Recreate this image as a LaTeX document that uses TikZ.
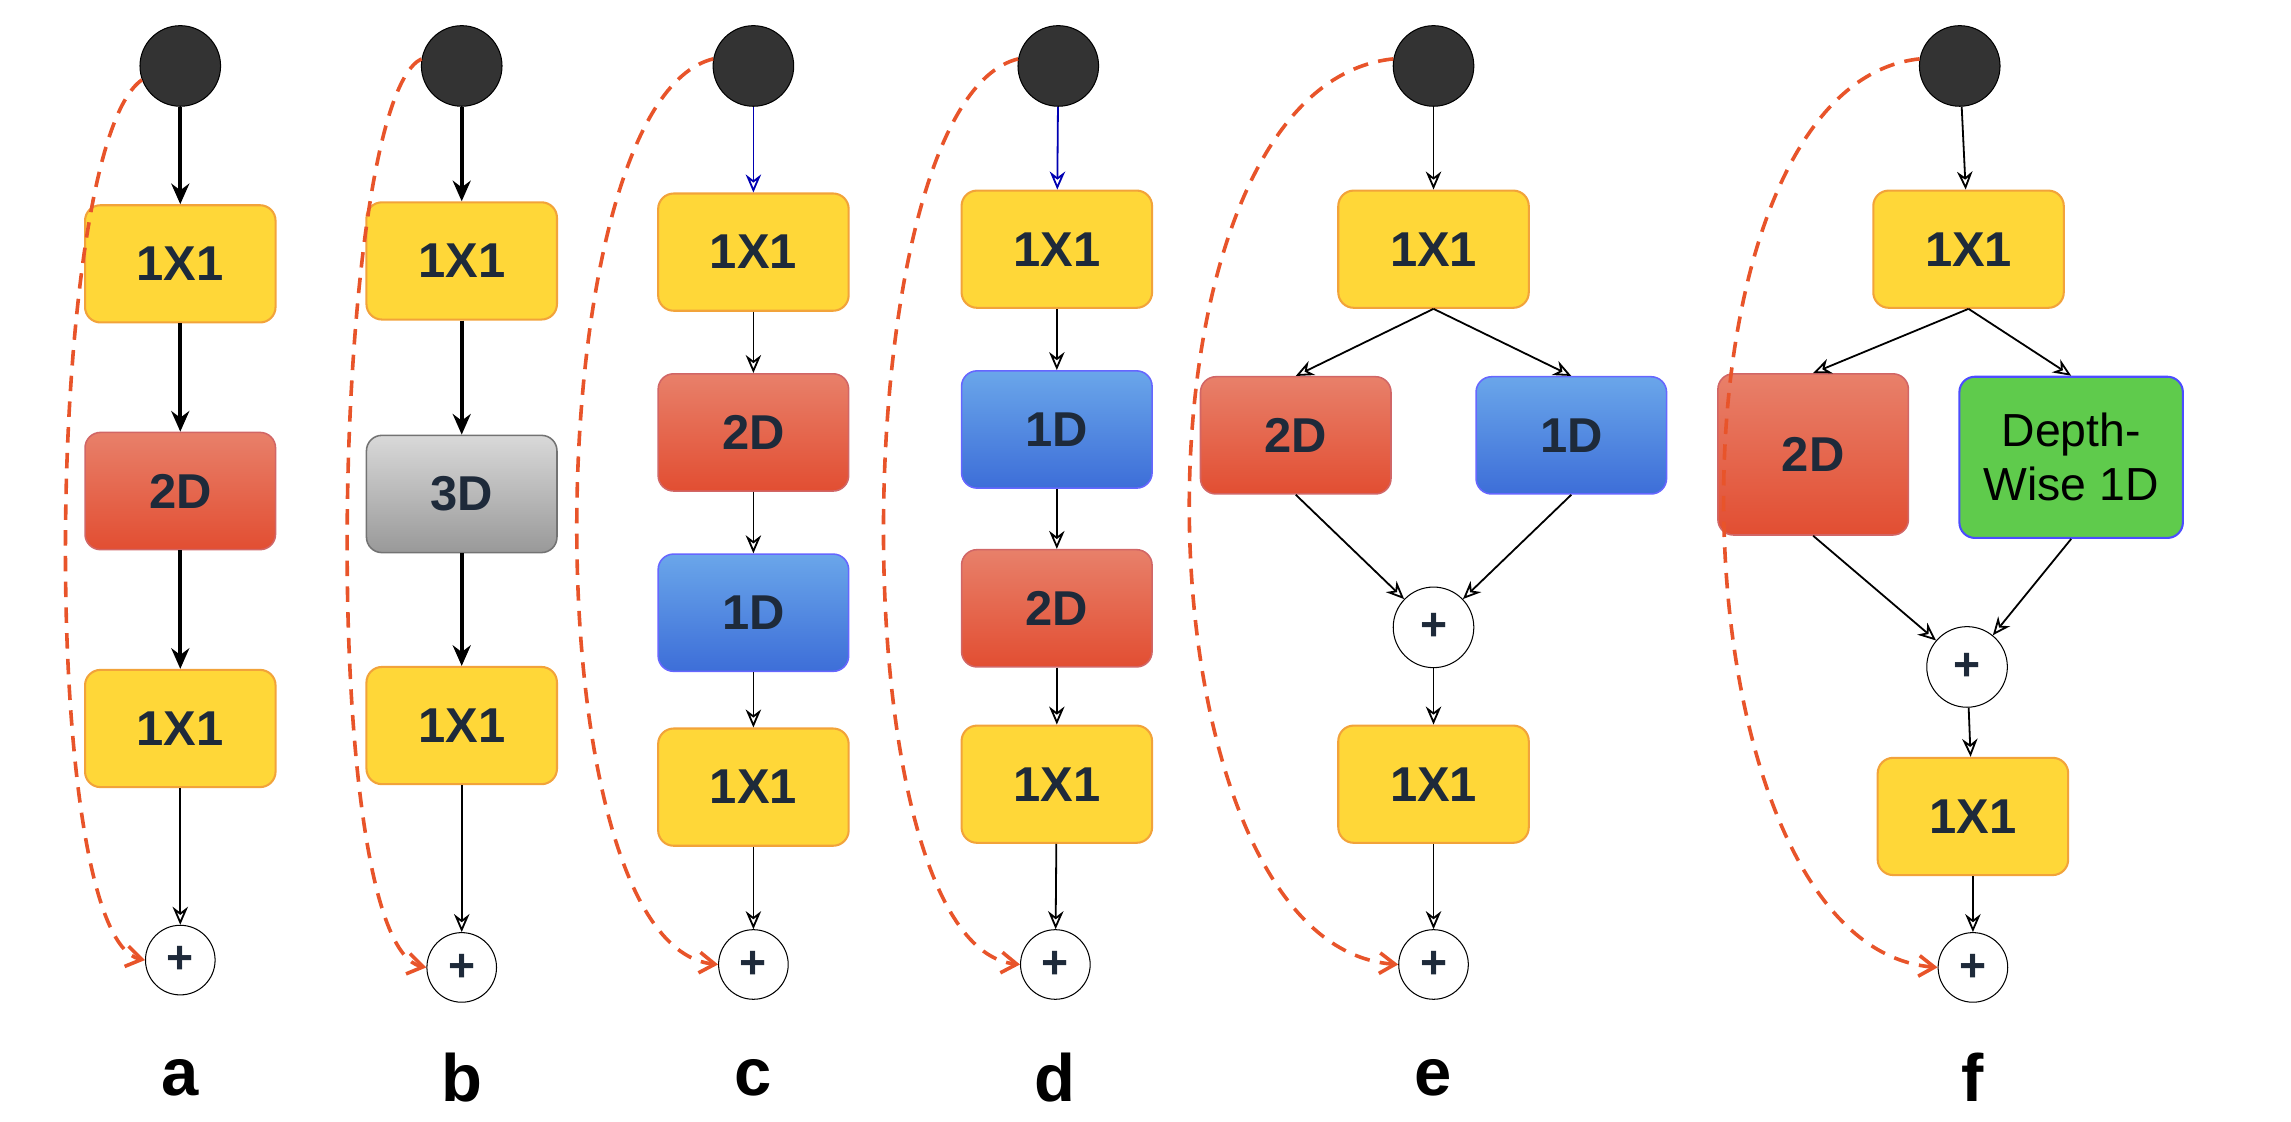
\documentclass[tikz,border=0pt]{standalone}
\usepackage{fontspec}
\setmainfont{Liberation Sans}
\usetikzlibrary{arrows.meta,shadings}
\definecolor{yfill}{HTML}{FFD738}
\definecolor{ydraw}{HTML}{F2A33A}
\definecolor{skipc}{HTML}{E8542A}
\definecolor{txt}{HTML}{1E2A3A}
\definecolor{redt}{HTML}{E8806A}
\definecolor{redb}{HTML}{E24E32}
\definecolor{blut}{HTML}{6AA6EA}
\definecolor{blub}{HTML}{3D6ED8}
\definecolor{grnf}{HTML}{5FCB4C}
\tikzset{
 box/.style={rounded corners=6pt,minimum width=2.6cm,minimum height=1.6cm,font=\fontsize{19}{22}\selectfont\bfseries,text=txt,align=center,inner sep=1pt},
 yel/.style={box,fill=yfill,draw=ydraw,line width=0.8pt},
 red/.style={box,top color=redt,bottom color=redb,draw=red!70!black!60,line width=0.6pt},
 blu/.style={box,top color=blut,bottom color=blub,draw=blue!60,line width=0.6pt},
 gry/.style={box,top color=gray!30,bottom color=gray!80,draw=gray!90!black,line width=0.6pt},
 grn/.style={box,fill=grnf,draw=blue!70,line width=0.8pt,font=\fontsize{18}{21}\selectfont,text=black},
 top/.style={circle,fill=black!80,draw=black,minimum size=1.1cm,inner sep=0pt},
 plus/.style={circle,draw=black,fill=white,minimum size=0.95cm,inner sep=0pt,font=\fontsize{18}{20}\selectfont\bfseries,text=txt},
 lab/.style={font=\fontsize{26}{30}\selectfont\bfseries},
 thk/.style={-{Stealth[length=8pt,width=7pt]},line width=1.6pt},
 thn/.style={-{Stealth[length=7pt,width=6pt,open]},line width=0.7pt},
 skip/.style={draw=skipc,line width=1.4pt,dash pattern=on 6pt off 4pt,-{Straight Barb[length=6pt,width=8pt]}},
}
\begin{document}
\begin{tikzpicture}[x=0.02cm,y=-0.02cm]
\useasboundingbox (0,0) rectangle (1563,765);
% a
\node[top] (a0) at (123,45) {};
\node[yel] (a1) at (123,180) {1X1};
\node[red] (a2) at (123,335) {2D};
\node[yel] (a3) at (123,497) {1X1};
\node[plus] (ap) at (123,655) {+};
\node[lab] at (123,735) {a};
\draw[thk] (a0)--(a1); \draw[thk] (a1)--(a2); \draw[thk] (a2)--(a3); \draw[thn] (a3)--(ap);
\draw[skip] (a0.200) .. controls (30,100) and (25,640) .. (ap.west);
% b
\node[top] (b0) at (315,45) {};
\node[yel] (b1) at (315,178) {1X1};
\node[gry] (b2) at (315,337) {3D};
\node[yel] (b3) at (315,495) {1X1};
\node[plus] (bp) at (315,660) {+};
\node[lab] at (315,735) {b};
\draw[thk] (b0)--(b1); \draw[thk] (b1)--(b2); \draw[thk] (b2)--(b3); \draw[thn] (b3)--(bp);
\draw[skip] (b0.170) .. controls (225,70) and (215,645) .. (bp.west);
% c
\node[top] (c0) at (514,45) {};
\node[yel] (c1) at (514,172) {1X1};
\node[red] (c2) at (514,295) {2D};
\node[blu] (c3) at (514,418) {1D};
\node[yel] (c4) at (514,537) {1X1};
\node[plus] (cp) at (514,658) {+};
\node[lab] at (514,735) {c};
\draw[thn,blue!70!black] (c0)--(c1); \draw[thn] (c1)--(c2); \draw[thn] (c2)--(c3); \draw[thn] (c3)--(c4); \draw[thn] (c4)--(cp);
\draw[skip] (c0.170) .. controls (365,70) and (360,645) .. (cp.west);
% d
\node[top] (d0) at (722,45) {};
\node[yel] (d1) at (721,170) {1X1};
\node[blu] (d2) at (721,293) {1D};
\node[red] (d3) at (721,415) {2D};
\node[yel] (d4) at (721,535) {1X1};
\node[plus] (dp) at (720,658) {+};
\node[lab] at (720,735) {d};
\draw[thn,blue!70!black] (d0)--(d1); \draw[thn] (d1)--(d2); \draw[thn] (d2)--(d3); \draw[thn] (d3)--(d4); \draw[thn] (d4)--(dp);
\draw[skip] (d0.170) .. controls (575,70) and (570,645) .. (dp.west);
% e
\node[top] (e0) at (978,45) {};
\node[yel] (e1) at (978,170) {1X1};
\node[red] (e2) at (884,297) {2D};
\node[blu] (e3) at (1072,297) {1D};
\node[plus,minimum size=1.1cm] (e4) at (978,428) {+};
\node[yel] (e5) at (978,535) {1X1};
\node[plus] (ep) at (978,658) {+};
\node[lab] at (978,735) {e};
\draw[thn] (e0)--(e1); \draw[thn] (e1.south)--(e2.north); \draw[thn] (e1.south)--(e3.north);
\draw[thn] (e2.south)--(e4); \draw[thn] (e3.south)--(e4); \draw[thn] (e4)--(e5); \draw[thn] (e5)--(ep);
\draw[skip] (e0.170) .. controls (760,60) and (770,645) .. (ep.west);
% f
\node[top] (f0) at (1337,45) {};
\node[yel] (f1) at (1343,170) {1X1};
\node[red,minimum height=2.2cm] (f2) at (1237,310) {2D};
\node[grn,minimum width=3.05cm,minimum height=2.2cm] (f3) at (1413,312) {Depth-\\Wise 1D};
\node[plus,minimum size=1.1cm] (f4) at (1342,455) {+};
\node[yel] (f5) at (1346,557) {1X1};
\node[plus] (fp) at (1346,660) {+};
\node[lab] at (1346,735) {f};
\draw[thn] (f0)--(f1); \draw[thn] (f1.south)--(f2.north); \draw[thn] (f1.south)--(f3.north);
\draw[thn] (f2.south)--(f4); \draw[thn] (f3.south)--(f4); \draw[thn] (f4)--(f5); \draw[thn] (f5)--(fp);
\draw[skip] (f0.170) .. controls (1125,60) and (1135,645) .. (fp.west);
\end{tikzpicture}
\end{document}
